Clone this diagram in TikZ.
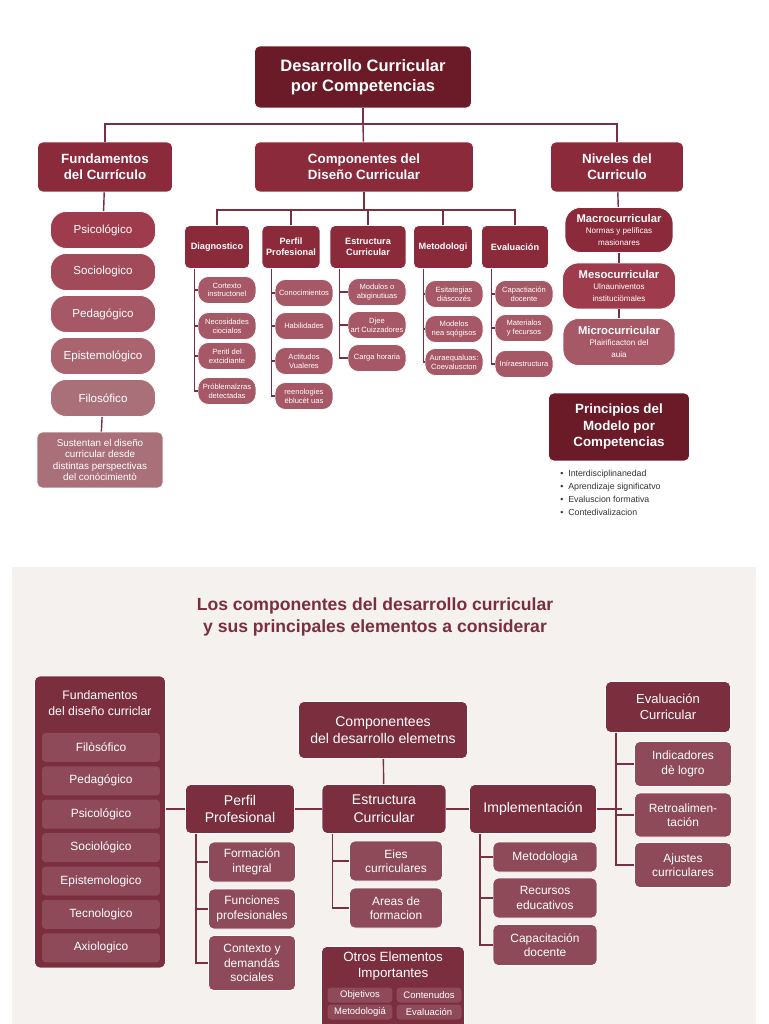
\documentclass[tikz,border=0pt]{standalone}
\usepackage{fontspec}
\setmainfont{Liberation Sans}
\usetikzlibrary{positioning}
\definecolor{wineD}{HTML}{6B1A28}
\definecolor{wine}{HTML}{8B2A3A}
\definecolor{pillA}{HTML}{9E3C4E}
\definecolor{pillB}{HTML}{A14A5A}
\definecolor{pillC}{HTML}{A65866}
\definecolor{pillD}{HTML}{A96470}
\definecolor{pillE}{HTML}{AA707A}
\definecolor{wineB}{HTML}{7A2E3E}
\definecolor{rose}{HTML}{8E4A58}
\definecolor{line}{HTML}{7A3040}
\definecolor{paper}{HTML}{F5F1EF}
\newcommand{\lvlnote}{\mdseries\fontsize{4.6}{5.4}\selectfont}

\begin{document}
\begin{tikzpicture}[
  x=0.02cm, y=-0.02cm,
  box/.style={draw=white, line width=0.4pt, rounded corners=3pt, fill=wine, text=white, align=center, inner sep=1pt},
  head/.style={box, font=\bfseries\fontsize{7.6}{9}\selectfont},
  pill/.style={box, rounded corners=9pt, text=white, font=\fontsize{6.6}{8}\selectfont, minimum width=2.1cm, minimum height=0.74cm},
  small/.style={box, rounded corners=6pt, fill=pillC, font=\fontsize{4.3}{5}\selectfont, minimum width=1.16cm, minimum height=0.54cm},
  level/.style={box, rounded corners=9pt, font=\bfseries\fontsize{6.4}{7}\selectfont},
  bbox/.style={box, fill=wineB, font=\fontsize{7.4}{9}\selectfont},
  bsub/.style={box, fill=rose, font=\fontsize{6.8}{8.2}\selectfont},
  link/.style={draw=line, line width=0.8pt}
  ]
  \useasboundingbox (0,0) rectangle (768,1024);
  \clip (0,0) rectangle (768,1024);
  \fill[white] (0,0) rectangle (768,567);
  \fill[paper] (12,567) rectangle (756,1024);

  % upper chart
  \node[head, fill=wineD, font=\bfseries\fontsize{9.4}{11.5}\selectfont, minimum width=4.34cm, minimum height=1.24cm] (title) at (363,77) {Desarrollo Curricular\\por Competencias};
  \node[head, minimum width=2.7cm, minimum height=1cm] (fund) at (105,167) {Fundamentos\\del Currículo};
  \node[head, minimum width=4.38cm, minimum height=1cm] (comp) at (364,167) {Componentes del\\Diseño Curricular};
  \node[head, minimum width=2.66cm, minimum height=1cm] (niv) at (617,167) {Niveles del\\Curriculo};
  \coordinate (bar) at (363,124);
  \draw[link] (title) -- (bar);
  \draw[link] (fund.north) |- (bar) -| (niv.north);
  \draw[link] (bar) -- (comp);

  \node[pill, fill=pillA] (psi) at (103,230) {Psicológico};
  \node[pill, fill=pillB] (soc) at (103,272) {Sociologico};
  \node[pill, fill=pillC] (ped) at (103,314) {Pedagógico};
  \node[pill, fill=pillD] (epi) at (103,356) {Epistemológico};
  \node[pill, fill=pillE] (fil) at (103,398) {Filosófico};
  \node[box, fill=pillE, font=\fontsize{5.6}{6.6}\selectfont, minimum width=2.52cm, minimum height=1.12cm] (sust) at (100,460) {Sustentan el diseño\\curricular desde\\distintas perspectivas\\del conócimientò};
  \draw[link] (fund) -- (psi);
  \draw[link] (fil) -- (sust);

  \node[head, font=\bfseries\fontsize{5.2}{6}\selectfont, minimum width=1.3cm, minimum height=0.86cm] (diag) at (217,247) {Diagnostico};
  \node[head, font=\bfseries\fontsize{5.2}{6}\selectfont, minimum width=1.16cm, minimum height=0.86cm] (perf) at (291,247) {Perfil\\Profesional};
  \node[head, font=\bfseries\fontsize{5.2}{6}\selectfont, minimum width=1.52cm, minimum height=0.86cm] (estr) at (368,247) {Estructura\\Curricular};
  \node[head, font=\bfseries\fontsize{5.2}{6}\selectfont, minimum width=1.18cm, minimum height=0.86cm] (meto) at (443,247) {Metodologi};
  \node[head, font=\bfseries\fontsize{5.2}{6}\selectfont, minimum width=1.34cm, minimum height=0.86cm] (eval) at (515,247) {Evaluación};
  \coordinate (bar2) at (364,210);
  \draw[link] (comp) -- (bar2);
  \draw[link] (diag.north) |- (bar2) -| (eval.north);
  \foreach \n in {perf,estr,meto} \draw[link] (\n.north) -- (\n.north |- bar2);

  \node[small] (d1) at (227,290) {Cortexto\\instructonel};
  \node[small] (d2) at (227,326) {Necosidades\\ciocialos};
  \node[small] (d3) at (227,356) {Peritl del\\extcidiante};
  \node[small] (d4) at (227,391) {Próblemalzras\\detectadas};
  \node[small] (p1) at (304,293) {Conocimientos};
  \node[small] (p2) at (304,326) {Habilidades};
  \node[small] (p3) at (304,361) {Actitudos\\Vualeres};
  \node[small] (p4) at (304,396) {reenologies\\ëblucét uas};
  \node[small] (e1) at (377,292) {Modulos o\\abiginutiuas};
  \node[small] (e2) at (377,325) {Djee\\art Cuizzadores};
  \node[small] (e3) at (377,358) {Carga horaria};
  \node[small] (m1) at (454,294) {Esitategias\\diáscozés};
  \node[small] (m2) at (454,329) {Modelos\\nea sqógisos};
  \node[small] (m3) at (454,362) {Auraequaluas:\\Coevaluscton};
  \node[small] (v1) at (524,294) {Capactiación\\docente};
  \node[small] (v2) at (524,328) {Materialos\\y fecursos};
  \node[small] (v3) at (524,364) {Iníraestructura};
  \foreach \p/\k in {diag/d1,diag/d2,diag/d3,diag/d4,perf/p1,perf/p2,perf/p3,perf/p4,estr/e1,estr/e2,estr/e3,meto/m1,meto/m2,meto/m3,eval/v1,eval/v2,eval/v3}
    \draw[link, line width=0.6pt] ([xshift=0.2cm]\p.south west) |- (\k.west);

  \node[level, fill=wine, minimum width=2.16cm, minimum height=0.9cm] (macro) at (619,230) {Macrocurricular\\[-1pt]\lvlnote Normas y pelíficas\\\lvlnote masionares};
  \node[level, fill=pillA, minimum width=2.26cm, minimum height=0.92cm] (meso) at (619,286) {Mesocurricular\\[-1pt]\lvlnote Ulnauniventos\\\lvlnote instituciömales};
  \node[level, fill=pillC, minimum width=2.24cm, minimum height=0.94cm] (micro) at (619,342) {Microcurricular\\[-1pt]\lvlnote Plairificacton del\\\lvlnote auia};
  \draw[link] (niv) -- (macro);
  \draw[link] (macro) -- (meso);
  \draw[link] (meso) -- (micro);

  \node[head, fill=wineD, font=\bfseries\fontsize{7.6}{9.4}\selectfont, minimum width=2.82cm, minimum height=1.36cm] (prin) at (619,427) {Principios del\\Modelo por\\Competencias};
  \node[anchor=north west, align=left, inner sep=0pt, text=black!80, font=\fontsize{5}{7.4}\selectfont] (list) at (560,470) {\textbullet\ \ Interdisciplinanedad\\\textbullet\ \ Aprendizaje significatvo\\\textbullet\ \ Evaluscion formativa\\\textbullet\ \ Contedivalizacion};

  % lower chart
  \node[text=wineB, align=center, font=\bfseries\fontsize{10}{12.6}\selectfont] (title2) at (375,617) {Los componentes del desarrollo curricular\\y sus principales elementos a considerar};

  \node[bbox, minimum width=2.62cm, minimum height=5.84cm] (fun2) at (100,822) {};
  \node[text=white, align=center, font=\fontsize{7}{9}\selectfont] (fun2t) at (100,703) {Fundamentos\\del diseño curriclar};
  \foreach \t [count=\i] in {Filòsófico,Pedagógico,Psicológico,Sociológico,Epistemologico,Tecnologico,Axiologico}
    \node[bsub, draw=none, rounded corners=2pt, minimum width=2.36cm, minimum height=0.58cm] (f\i) at (101,714+33.4*\i) {\t};

  \node[bbox, minimum width=3.38cm, minimum height=1.14cm, font=\fontsize{8}{10}\selectfont] (cde) at (383,730) {Componentees\\del desarrollo elemetns};
  \node[bbox, minimum width=2.18cm, minimum height=0.98cm, font=\fontsize{8}{10}\selectfont] (perf2) at (240,809) {Perfil\\Profesional};
  \node[bbox, minimum width=2.48cm, minimum height=0.98cm, font=\fontsize{8}{10}\selectfont] (estr2) at (384,809) {Estructura\\Curricular};
  \node[bbox, minimum width=2.54cm, minimum height=0.98cm, font=\fontsize{8}{10}\selectfont] (impl) at (533,809) {Implementación};
  \node[bbox, minimum width=2.5cm, minimum height=1.02cm] (eval2) at (668,707) {Evaluación\\Curricular};
  \coordinate (evbar) at (622,809);
  \draw[link] (perf2.west) -- (perf2.west -| fun2.east);
  \draw[link] (perf2) -- (estr2);
  \draw[link] (estr2) -- (impl);
  \draw[link] (impl) -- (evbar);
  \draw[link] (cde) -- (estr2);

  \node[bsub, minimum width=1.74cm, minimum height=0.8cm] (pf1) at (252,862) {Formación\\integral};
  \node[bsub, minimum width=1.74cm, minimum height=0.8cm] (pf2) at (252,909) {Funciones\\profesionales};
  \node[bsub, minimum width=1.74cm, minimum height=1.1cm] (pf3) at (252,963) {Contexto y\\demandás\\sociales};
  \node[bsub, minimum width=1.86cm, minimum height=0.8cm] (es1) at (396,861) {Eies\\curriculares};
  \node[bsub, minimum width=1.86cm, minimum height=0.8cm] (es2) at (396,908) {Areas de\\formacion};
  \node[bsub, minimum width=2.08cm, minimum height=0.6cm] (im1) at (545,857) {Metodologia};
  \node[bsub, minimum width=2.08cm, minimum height=0.8cm] (im2) at (545,898) {Recursos\\educativos};
  \node[bsub, minimum width=2.08cm, minimum height=0.82cm] (im3) at (545,945) {Capacitación\\docente};
  \node[bsub, minimum width=1.94cm, minimum height=0.9cm] (ev1) at (683,764) {Indicadores\\dè logro};
  \node[bsub, minimum width=1.94cm, minimum height=0.88cm] (ev2) at (683,815) {Retroalimen-\\tación};
  \node[bsub, minimum width=1.94cm, minimum height=0.9cm] (ev3) at (683,865) {Ajustes\\curriculares};
  \foreach \p/\k in {perf2/pf1,perf2/pf2,perf2/pf3,estr2/es1,estr2/es2,impl/im1,impl/im2,impl/im3,eval2/ev1,eval2/ev2,eval2/ev3}
    \draw[link] ([xshift=0.22cm]\p.south west) |- (\k.west);

  \node[bbox, minimum width=2.86cm, minimum height=1.9cm] (otros) at (393,994) {};
  \node[text=white, align=center, font=\fontsize{7.6}{9.6}\selectfont] (otrost) at (393,966) {Otros Elementos\\Importantes};
  \node[bsub, draw=none, rounded corners=2pt, font=\fontsize{5.4}{6}\selectfont, minimum width=1.3cm, minimum height=0.3cm] (o1) at (360,995) {Objetivos};
  \node[bsub, draw=none, rounded corners=2pt, font=\fontsize{5.4}{6}\selectfont, minimum width=1.3cm, minimum height=0.3cm] (o2) at (429,995) {Contenudos};
  \node[bsub, draw=none, rounded corners=2pt, font=\fontsize{5.4}{6}\selectfont, minimum width=1.3cm, minimum height=0.3cm] (o3) at (360,1012) {Metodologiá};
  \node[bsub, draw=none, rounded corners=2pt, font=\fontsize{5.4}{6}\selectfont, minimum width=1.3cm, minimum height=0.3cm] (o4) at (429,1012) {Evaluación};
\end{tikzpicture}
\end{document}
